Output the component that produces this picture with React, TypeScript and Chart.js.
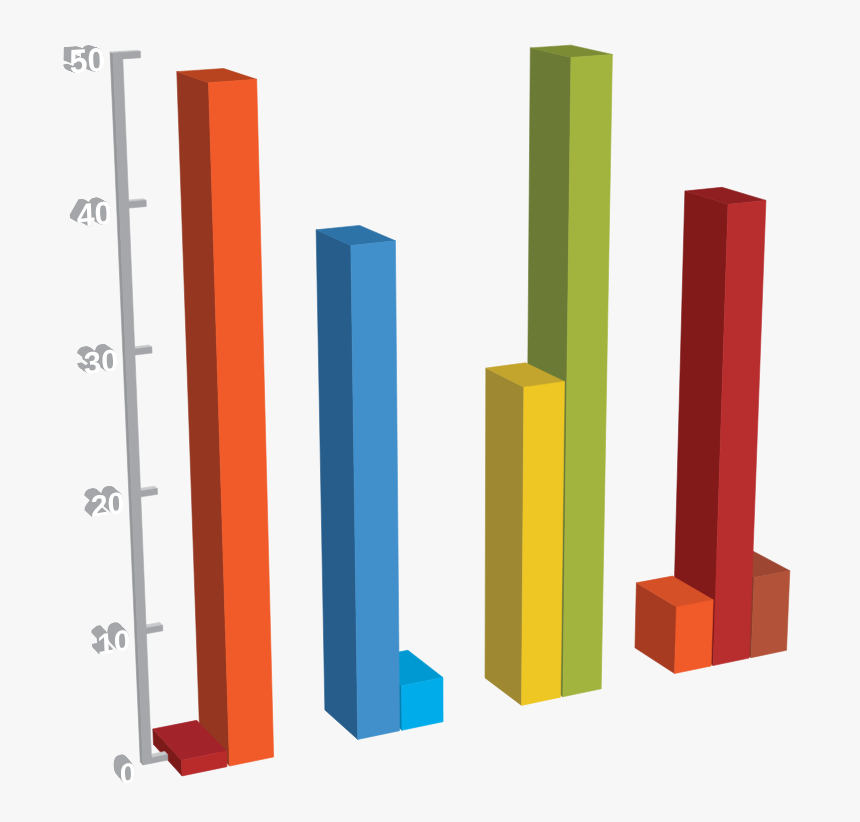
import { useEffect, useRef } from 'react';
import { Chart, registerables } from 'chart.js';

Chart.register(...registerables);

// ---------- data ----------
const categories = ['Group A', 'Group B', 'Group C', 'Group D'];
const seriesLeft = [1.2, 36.4, 24.7, 5.5];
const seriesMiddle = [48.1, 3.5, 48.1, 36.5];
const seriesRight: (number | null)[] = [null, null, null, 6.7];
const yTicks = [0, 10, 20, 30, 40, 50];
const yTickLabels = ['0', '10', '20', '30', '40', '50'];

// ---------- colours (front, left side, top) ----------
const leftFront = ['#b92b2b', '#4190cb', '#eec724', '#f15a29'];
const leftSide = ['#7c1a1a', '#275d8b', '#9f8832', '#a63b22'];
const leftTop = ['#a3232a', '#2e73a8', '#c3a42d', '#d55027'];
const midFront = ['#f15a29', '#00acea', '#a2b43e', '#b82e2e'];
const midSide = ['#953720', '#0080b5', '#6b7a35', '#821a1a'];
const midTop = ['#b8431f', '#0099d1', '#7b8c35', '#8f1f20'];
const rightFront = ['#b25238', '#b25238', '#b25238', '#b25238'];
const rightSide = ['#8b3b29', '#8b3b29', '#8b3b29', '#8b3b29'];
const rightTop = ['#9d4632', '#9d4632', '#9d4632', '#9d4632'];
const sidePalettes = [leftSide, midSide, rightSide];
const topPalettes = [leftTop, midTop, rightTop];

// ---------- perspective camera ----------
const F = 2286.7;
const PX = 446;
const PY = 400;
const T = [-9.4459, 16.0056, 100];
const DX = [0.8936, -0.1253, 0.4309];
const UP = [-0.002284, -0.96149, -0.27483];
const DZ = [-0.4488, -0.2447, 0.8595];

// world extents of the (hidden) 2D chart
const WORLD_W = 33.44;
const WORLD_X0 = -3.16;
const WORLD_H = 31.075;
const DEPTH = 3.66;
const AXIS_Z = 2.0;

type Pt = [number, number];

function P(X: number, Y: number, Z: number): Pt {
  const u = T[0] + X * DX[0] + Y * UP[0] + Z * DZ[0];
  const v = T[1] + X * DX[1] + Y * UP[1] + Z * DZ[1];
  const w = T[2] + X * DX[2] + Y * UP[2] + Z * DZ[2];
  return [PX + (F * u) / w, PY + (F * v) / w];
}

function poly(ctx: CanvasRenderingContext2D, pts: Pt[], fill: string) {
  ctx.beginPath();
  pts.forEach((p, i) => (i ? ctx.lineTo(p[0], p[1]) : ctx.moveTo(p[0], p[1])));
  ctx.closePath();
  ctx.fillStyle = fill;
  ctx.fill();
  ctx.strokeStyle = fill;
  ctx.lineWidth = 0.6;
  ctx.lineJoin = 'round';
  ctx.stroke();
}

function box(
  ctx: CanvasRenderingContext2D,
  x0: number, x1: number, y0: number, y1: number, z0: number, z1: number,
  cFront: string, cLeft: string, cTop: string
) {
  poly(ctx, [P(x0, y0, z0), P(x0, y0, z1), P(x0, y1, z1), P(x0, y1, z0)], cLeft);
  poly(ctx, [P(x0, y1, z0), P(x1, y1, z0), P(x1, y1, z1), P(x0, y1, z1)], cTop);
  poly(ctx, [P(x0, y0, z0), P(x1, y0, z0), P(x1, y1, z0), P(x0, y1, z0)], cFront);
}

function text3d(
  ctx: CanvasRenderingContext2D, str: string,
  X: number, Y: number, Z: number, depth: number
) {
  const FONT_PX = 40;
  const s = 1.35 / FONT_PX;
  const h = 0.01;
  const steps = 24;
  const drawAt = (z: number, color: string) => {
    const o = P(X, Y, z);
    const ex = P(X + h, Y, z);
    const ey = P(X, Y - h, z);
    ctx.save();
    ctx.transform(
      ((ex[0] - o[0]) / h) * s, ((ex[1] - o[1]) / h) * s,
      ((ey[0] - o[0]) / h) * s, ((ey[1] - o[1]) / h) * s,
      o[0], o[1]
    );
    ctx.font = `bold ${FONT_PX}px "Liberation Sans", Arial, sans-serif`;
    ctx.textAlign = 'right';
    ctx.textBaseline = 'middle';
    ctx.fillStyle = color;
    ctx.fillText(str, 0, 0);
    ctx.restore();
  };
  for (let k = steps; k >= 1; k--) {
    drawAt(Z + (depth * k) / steps, '#a5a7aa');
  }
  drawAt(Z, '#ffffff');
}

const threeDPlugin = {
  id: 'threeD',
  beforeDraw(chart: any) {
    const { ctx, width, height } = chart;
    ctx.save();
    ctx.fillStyle = '#f7f7f7';
    ctx.fillRect(0, 0, width, height);
    ctx.restore();
  },
  beforeDatasetsDraw() {
    return false;
  },
  afterDraw(chart: any) {
    const ctx: CanvasRenderingContext2D = chart.ctx;
    const xs = chart.scales.x;
    const ys = chart.scales.y;
    const y0 = ys.getPixelForValue(0);
    const yTop = ys.getPixelForValue(yTicks[yTicks.length - 1]);
    const wx = (px: number) => WORLD_X0 + ((px - xs.left) / xs.width) * WORLD_W;
    const wy = (py: number) => ((y0 - py) / (y0 - yTop)) * WORLD_H;

    // bars
    const bars: any[] = [];
    chart.data.datasets.forEach((ds: any, d: number) => {
      const meta = chart.getDatasetMeta(d);
      meta.data.forEach((el: any, i: number) => {
        const v = ds.data[i];
        if (v === null || v === undefined) return;
        const { x, y, base, width } = el.getProps(['x', 'y', 'base', 'width'], true);
        bars.push({
          x0: wx(x - width / 2),
          x1: wx(x + width / 2),
          y0: wy(base),
          y1: wy(y),
          front: ds.backgroundColor[i],
          side: sidePalettes[d][i],
          top: topPalettes[d][i],
        });
      });
    });
    bars.sort((a, b) => b.x0 - a.x0);
    ctx.save();
    bars.forEach((b) => box(ctx, b.x0, b.x1, b.y0, b.y1, 0, DEPTH, b.front, b.side, b.top));

    // axis
    const AX = wx(xs.left);
    const rodL = AX - 0.2;
    const rodR = AX + 0.2;
    const zr0 = AXIS_Z - 0.18;
    const zr1 = AXIS_Z + 0.18;
    const hTop = wy(yTop);
    yTicks.forEach((t) => {
      const yy = wy(ys.getPixelForValue(t));
      let lo = yy - 0.13;
      let hi = yy + 0.13;
      if (yy <= 0.001) { lo = 0; hi = 0.26; }
      if (yy >= hTop - 0.001) { lo = hTop - 0.26; hi = hTop; }
      box(ctx, rodR, rodR + 0.75, lo, hi, zr0, zr1, '#a3a5a8', '#8f9194', '#c8cacc');
    });
    box(ctx, rodL, rodR, 0, hTop, zr0, zr1, '#a5a7aa', '#95979a', '#c8cacc');

    // tick labels (extruded)
    yTicks.forEach((t, i) => {
      const yy = wy(ys.getPixelForValue(t));
      text3d(ctx, yTickLabels[i], AX - 0.53, yy - 0.33, AXIS_Z - 0.2, 1.0);
    });
    ctx.restore();
  },
};

export default function App() {
  const ref = useRef<HTMLCanvasElement>(null);
  useEffect(() => {
    const chart = new Chart(ref.current as HTMLCanvasElement, {
      type: 'bar',
      data: {
        labels: categories,
        datasets: [
          { label: 'Series 1', data: seriesLeft, backgroundColor: leftFront },
          { label: 'Series 2', data: seriesMiddle, backgroundColor: midFront },
          { label: 'Series 3', data: seriesRight, backgroundColor: rightFront },
        ],
      },
      options: {
        animation: false,
        responsive: false,
        events: [],
        layout: { padding: 0 },
        datasets: { bar: { categoryPercentage: 0.79, barPercentage: 0.945 } },
        plugins: { legend: { display: false }, tooltip: { enabled: false } },
        scales: {
          x: { display: false },
          y: { display: false, min: 0, max: 50, ticks: { stepSize: 10 } },
        },
      } as any,
      plugins: [threeDPlugin as any],
    });
    return () => chart.destroy();
  }, []);
  return (
    <div style={{ position: 'fixed', left: 0, top: 0, width: 860, height: 822, background: '#f7f7f7' }}>
      <canvas ref={ref} width={860} height={822} style={{ width: 860, height: 822, display: 'block' }} />
    </div>
  );
}
